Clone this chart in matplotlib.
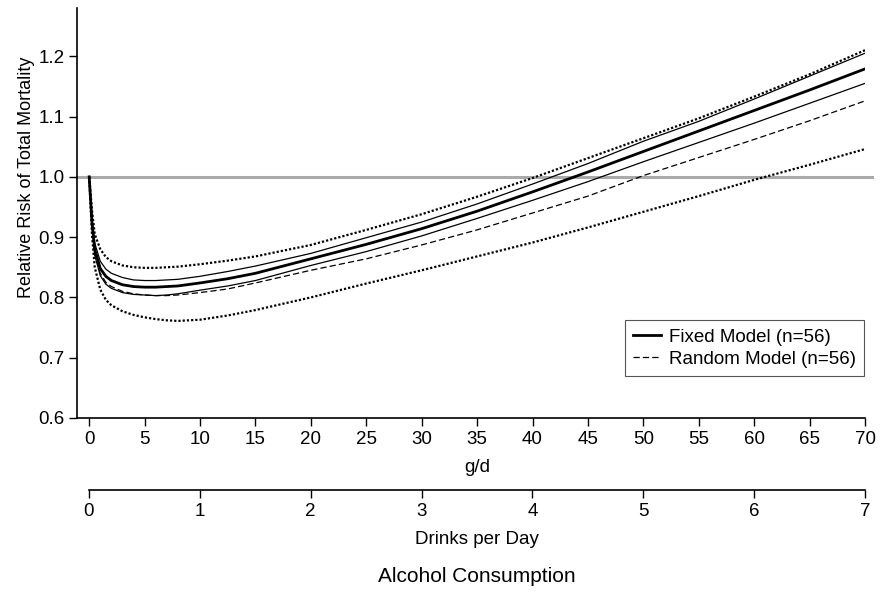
import matplotlib
matplotlib.use("Agg")
import matplotlib.pyplot as plt
from matplotlib import font_manager

# pick a narrow sans if it is there
names = {f.name for f in font_manager.fontManager.ttflist}
font = "Liberation Sans Narrow" if "Liberation Sans Narrow" in names else "Liberation Sans"
plt.rcParams["font.family"] = [font, "DejaVu Sans"]

# alcohol intake, g/d
grams = [0, 0.25, 0.5, 1, 1.5, 2, 3, 4, 5, 6, 7, 8, 10, 12.5, 15,
         20, 25, 30, 35, 40, 45, 50, 55, 60, 65, 70]

# fixed model and its confidence band
fixed = [1.000, 0.925, 0.880, 0.848, 0.835, 0.828, 0.821, 0.818, 0.817, 0.817,
         0.818, 0.819, 0.824, 0.831, 0.840, 0.864, 0.888, 0.914, 0.943, 0.975,
         1.008, 1.042, 1.076, 1.110, 1.144, 1.179]
fixed_hi = [1.000, 0.930, 0.890, 0.860, 0.847, 0.840, 0.833, 0.829, 0.828, 0.828,
            0.829, 0.830, 0.835, 0.843, 0.852, 0.873, 0.899, 0.925, 0.955, 0.988,
            1.022, 1.059, 1.092, 1.129, 1.167, 1.205]
fixed_lo = [1.000, 0.920, 0.870, 0.836, 0.822, 0.815, 0.808, 0.805, 0.804, 0.803,
            0.804, 0.806, 0.812, 0.819, 0.828, 0.853, 0.876, 0.902, 0.931, 0.961,
            0.992, 1.025, 1.057, 1.089, 1.122, 1.155]

# random model and its confidence band
random_m = [1.000, 0.920, 0.873, 0.840, 0.825, 0.818, 0.810, 0.806, 0.804, 0.803,
            0.803, 0.804, 0.808, 0.814, 0.824, 0.845, 0.864, 0.887, 0.912, 0.940,
            0.968, 1.002, 1.032, 1.062, 1.093, 1.126]
random_hi = [1.000, 0.945, 0.905, 0.880, 0.867, 0.860, 0.853, 0.850, 0.849, 0.849,
             0.850, 0.851, 0.855, 0.861, 0.868, 0.887, 0.912, 0.938, 0.967, 0.998,
             1.031, 1.064, 1.097, 1.133, 1.170, 1.210]
random_lo = [1.000, 0.905, 0.850, 0.813, 0.796, 0.787, 0.777, 0.771, 0.767, 0.764,
             0.762, 0.761, 0.763, 0.770, 0.779, 0.800, 0.823, 0.845, 0.868, 0.891,
             0.916, 0.942, 0.968, 0.995, 1.020, 1.046]

gd_ticks = list(range(0, 71, 5))
drink_ticks = list(range(0, 8))

W, H = 883, 595
fig = plt.figure(figsize=(W / 100, H / 100), dpi=100)

ax = fig.add_axes([77 / W, 1 - 418 / H, (865 - 77) / W, (418 - 8) / H])
ax.set_xlim(-1.1, 70)
ax.set_ylim(0.6, 1.28)

# reference line at RR = 1
ax.plot([-1.1, 70.6], [1.0, 1.0], color="#aaaaaa", lw=2.2, clip_on=False, zorder=1)

dots = (0, (1, 0.9))
ax.plot(grams, random_hi, color="black", lw=1.6, linestyle=dots)
ax.plot(grams, random_lo, color="black", lw=1.6, linestyle=dots)
ax.plot(grams, fixed_hi, color="black", lw=0.9)
ax.plot(grams, fixed_lo, color="black", lw=0.9)
l_rand, = ax.plot(grams, random_m, color="black", lw=0.9, linestyle=(0, (5, 2.5)))
l_fix, = ax.plot(grams, fixed, color="black", lw=2.0)

ax.set_xticks(gd_ticks)
ax.set_yticks([0.6, 0.7, 0.8, 0.9, 1.0, 1.1, 1.2])
ax.set_yticklabels(["0.6", "0.7", "0.8", "0.9", "1.0", "1.1", "1.2"])
ax.tick_params(direction="out", length=6, width=1, labelsize=13.5, pad=3)
ax.spines["top"].set_visible(False)
ax.spines["right"].set_visible(False)
for s in ("left", "bottom"):
    ax.spines[s].set_linewidth(1.2)

leg = ax.legend([l_fix, l_rand], ["Fixed Model (n=56)", "Random Model (n=56)"],
                loc="lower right", bbox_to_anchor=(864 / W, 1 - 376 / H),
                bbox_transform=fig.transFigure, borderaxespad=0, fontsize=13.5,
                fancybox=False, framealpha=1, edgecolor="#555555",
                handlelength=1.5, handletextpad=0.4, labelspacing=0.25,
                borderpad=0.45)
leg.get_frame().set_linewidth(0.8)

# second scale: drinks per day
ax2 = fig.add_axes([89 / W, 1 - 490 / H, (865 - 89) / W, 0.001])
ax2.set_xlim(0, 7)
ax2.set_xticks(drink_ticks)
ax2.set_yticks([])
ax2.patch.set_visible(False)
for s in ("top", "left", "right"):
    ax2.spines[s].set_visible(False)
ax2.spines["bottom"].set_linewidth(1.2)
ax2.tick_params(direction="out", length=6, width=1, labelsize=13.5, pad=3)

xc = 477 / W
fig.text(xc, 1 - 467 / H, "g/d", ha="center", va="center", fontsize=13.5)
fig.text(xc, 1 - 540 / H, "Drinks per Day", ha="center", va="center", fontsize=13.5)
fig.text(xc, 1 - 576 / H, "Alcohol Consumption", ha="center", va="center", fontsize=15)
fig.text(27 / W, 1 - 177 / H, "Relative Risk of Total Mortality", rotation=90,
         ha="center", va="center", fontsize=13)

fig.savefig("out.png", dpi=100)
